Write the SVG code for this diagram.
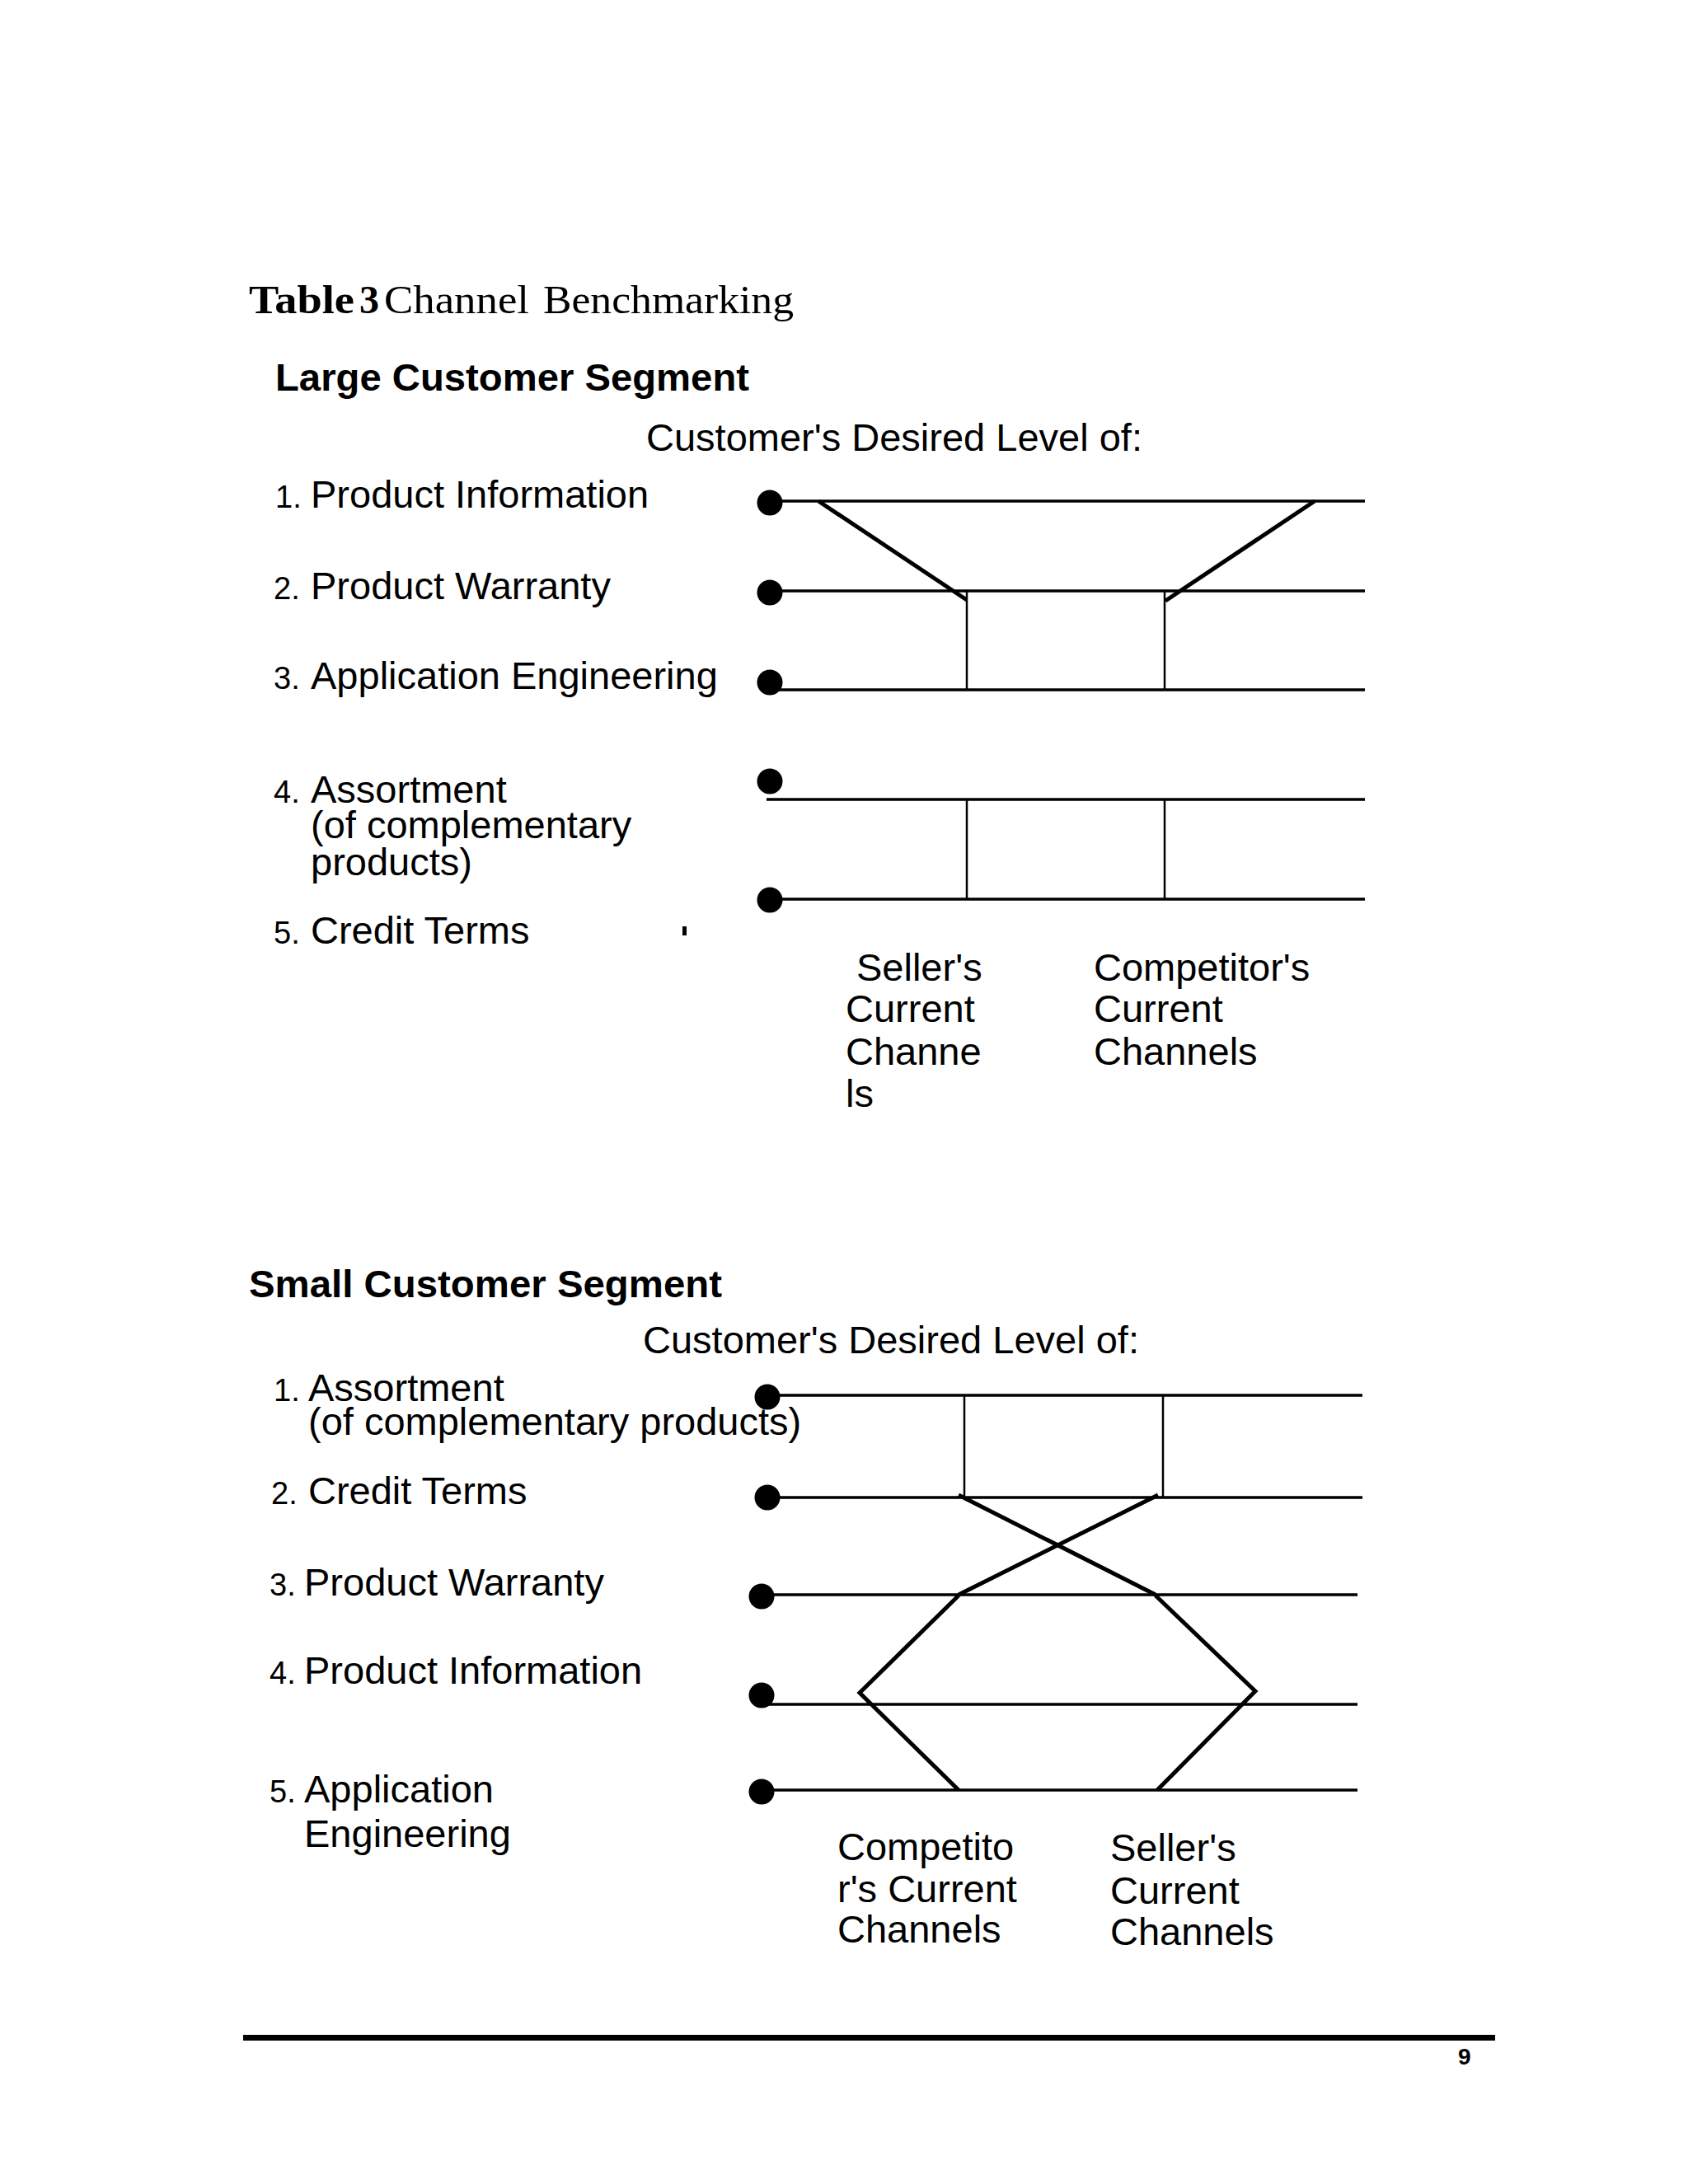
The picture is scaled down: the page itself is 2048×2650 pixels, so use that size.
<svg xmlns="http://www.w3.org/2000/svg" width="2048" height="2650" viewBox="0 0 2048 2650">
<style>
.t{font-family:"Liberation Sans",Arial,sans-serif;font-size:47px;fill:#000}
.n{font-family:"Liberation Sans",Arial,sans-serif;font-size:38px;fill:#000}
.b{font-family:"Liberation Sans",Arial,sans-serif;font-size:47px;font-weight:bold;fill:#000}
.s{font-family:"Liberation Serif","Times New Roman",serif;font-size:48px;fill:#000}
.h{stroke:#000;stroke-width:3.5;fill:none}
.v{stroke:#000;stroke-width:2.5;fill:none}
.d{stroke:#000;stroke-width:5;fill:none;stroke-linejoin:miter}
.dot{fill:#000}
</style>
<rect width="2048" height="2650" fill="#fff"/>

<g id="title">
<text class="s" x="302" y="380" font-weight="bold" textLength="128" lengthAdjust="spacingAndGlyphs">Table</text>
<text class="s" x="436" y="380" font-weight="bold">3</text>
<text class="s" x="466" y="380" textLength="176" lengthAdjust="spacingAndGlyphs">Channel</text>
<text class="s" x="659" y="380" textLength="304" lengthAdjust="spacingAndGlyphs">Benchmarking</text>
</g>

<!-- Large customer segment -->
<g id="large-segment">
<text class="b" x="334" y="474" textLength="575" lengthAdjust="spacingAndGlyphs">Large Customer Segment</text>
<text class="t" x="784" y="547">Customer's Desired Level of:</text>

<g id="L1"><text class="n" x="334" y="616">1.</text><text class="t" x="377" y="616">Product Information</text></g>
<g id="L2"><text class="n" x="332" y="727">2.</text><text class="t" x="377" y="727">Product Warranty</text></g>
<g id="L3"><text class="n" x="332" y="836">3.</text><text class="t" x="377" y="836">Application Engineering</text></g>
<g id="L4"><text class="n" x="332" y="974">4.</text><text class="t" x="377" y="974">Assortment</text>
<text class="t" x="377" y="1017">(of complementary</text>
<text class="t" x="377" y="1062">products)</text></g>
<g id="L5"><text class="n" x="332" y="1145">5.</text><text class="t" x="377" y="1145">Credit Terms</text></g>
<rect x="828" y="1124" width="5" height="11" fill="#000"/>

<g id="L-seller"><text class="t" x="1039" y="1190">Seller's</text>
<text class="t" x="1026" y="1240">Current</text>
<text class="t" x="1026" y="1292">Channe</text>
<text class="t" x="1026" y="1343">ls</text></g>
<g id="L-competitor"><text class="t" x="1327" y="1190">Competitor's</text>
<text class="t" x="1327" y="1240">Current</text>
<text class="t" x="1327" y="1292">Channels</text></g>

<g id="L-dots">
<circle class="dot" cx="934" cy="610" r="15.5"/>
<circle class="dot" cx="934" cy="719" r="15.5"/>
<circle class="dot" cx="934" cy="828" r="15.5"/>
<circle class="dot" cx="934" cy="948" r="15.5"/>
<circle class="dot" cx="934" cy="1092" r="15.5"/>
</g>
</g>

<g id="large-connectors">
<line class="h" x1="934" y1="608" x2="1656" y2="608"/>
<line class="h" x1="934" y1="717" x2="1656" y2="717"/>
<line class="h" x1="934" y1="837" x2="1656" y2="837"/>
<line class="h" x1="930" y1="970" x2="1656" y2="970"/>
<line class="h" x1="934" y1="1091" x2="1656" y2="1091"/>
<line class="v" x1="1173" y1="717" x2="1173" y2="837"/>
<line class="v" x1="1413" y1="717" x2="1413" y2="837"/>
<line class="v" x1="1173" y1="970" x2="1173" y2="1091"/>
<line class="v" x1="1413" y1="970" x2="1413" y2="1091"/>
<line class="d" x1="993" y1="608" x2="1173" y2="728"/>
<line class="d" x1="1595" y1="608" x2="1414" y2="729"/>
</g>

<!-- Small customer segment -->
<g id="small-segment">
<text class="b" x="302" y="1574" textLength="574" lengthAdjust="spacingAndGlyphs">Small Customer Segment</text>
<text class="t" x="780" y="1642">Customer's Desired Level of:</text>

<g id="S1"><text class="n" x="332" y="1700">1.</text><text class="t" x="374" y="1700">Assortment</text>
<text class="t" x="374" y="1741">(of complementary products)</text></g>
<g id="S2"><text class="n" x="329" y="1825">2.</text><text class="t" x="374" y="1825">Credit Terms</text></g>
<g id="S3"><text class="n" x="327" y="1936">3.</text><text class="t" x="369" y="1936">Product Warranty</text></g>
<g id="S4"><text class="n" x="327" y="2043">4.</text><text class="t" x="369" y="2043">Product Information</text></g>
<g id="S5"><text class="n" x="327" y="2187">5.</text><text class="t" x="369" y="2187">Application</text>
<text class="t" x="369" y="2241">Engineering</text></g>

<g id="S-competitor"><text class="t" x="1016" y="2257">Competito</text>
<text class="t" x="1016" y="2308">r's Current</text>
<text class="t" x="1016" y="2357">Channels</text></g>
<g id="S-seller"><text class="t" x="1347" y="2258">Seller's</text>
<text class="t" x="1347" y="2310">Current</text>
<text class="t" x="1347" y="2360">Channels</text></g>

<g id="S-dots">
<circle class="dot" cx="931" cy="1695" r="15.5"/>
<circle class="dot" cx="931" cy="1817" r="15.5"/>
<circle class="dot" cx="924" cy="1937" r="15.5"/>
<circle class="dot" cx="924" cy="2057" r="15.5"/>
<circle class="dot" cx="924" cy="2174" r="15.5"/>
</g>
</g>

<g id="small-connectors">
<line class="h" x1="931" y1="1693" x2="1653" y2="1693"/>
<line class="h" x1="931" y1="1817" x2="1653" y2="1817"/>
<line class="h" x1="924" y1="1935" x2="1647" y2="1935"/>
<line class="h" x1="924" y1="2068" x2="1647" y2="2068"/>
<line class="h" x1="924" y1="2172" x2="1647" y2="2172"/>
<line class="v" x1="1170" y1="1693" x2="1170" y2="1817"/>
<line class="v" x1="1411" y1="1693" x2="1411" y2="1817"/>
<line class="d" x1="1163" y1="1814" x2="1402" y2="1935"/>
<line class="d" x1="1163" y1="1935" x2="1405" y2="1814"/>
<polyline class="d" points="1163,1936 1043,2054 1163,2172"/>
<polyline class="d" points="1402,1936 1523,2052 1404,2172"/>
</g>

<g id="footer">
<rect x="295" y="2469" width="1519" height="7" fill="#000"/>
<text x="1769" y="2505" font-family="Liberation Sans,Arial,sans-serif" font-size="28" font-weight="bold">9</text>
</g>
</svg>
